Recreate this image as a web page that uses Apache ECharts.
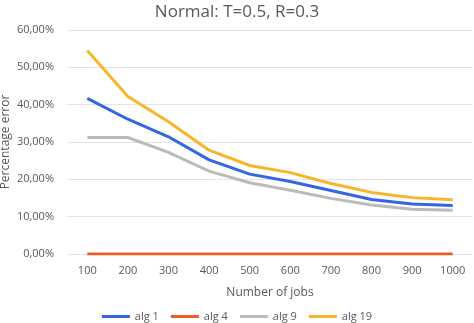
<!DOCTYPE html>
<html>
<head>
<meta charset="utf-8">
<script src="https://cdn.jsdelivr.net/npm/echarts@6/dist/echarts.min.js"></script>
<style>
  html, body { margin: 0; padding: 0; background: #fff; }
  #chart { width: 474px; height: 323px; }
</style>
</head>
<body>
<div id="chart"></div>
<script>
// Number of jobs
const jobs = ['100', '200', '300', '400', '500', '600', '700', '800', '900', '1000'];
// Percentage error per algorithm (in %)
const alg1 = [41.7, 36.1, 31.4, 25.2, 21.4, 19.4, 17.0, 14.6, 13.4, 13.0];
const alg4 = [0, 0, 0, 0, 0, 0, 0, 0, 0, 0];
const alg9 = [31.2, 31.2, 27.2, 22.2, 19.1, 17.1, 14.9, 13.1, 12.0, 11.7];
const alg19 = [54.5, 42.2, 35.4, 27.8, 23.7, 21.8, 18.9, 16.5, 15.1, 14.5];

const seriesNames = ['alg 1', 'alg 4', 'alg 9', 'alg 19'];
const seriesData = [alg1, alg4, alg9, alg19];
const colors = ['#3366E0', '#F0592A', '#B9BCB9', '#F7B52C'];

const textColor = '#595959';
const font = 'Open Sans';

const chart = echarts.init(document.getElementById('chart'));
chart.setOption({
  animation: false,
  color: colors,
  title: {
    text: 'Normal: T=0.5, R=0.3',
    left: 'center',
    top: -1,
    textStyle: { color: textColor, fontSize: 17, fontWeight: 'normal', fontFamily: font }
  },
  legend: {
    bottom: -4,
    left: 'center',
    itemWidth: 28,
    itemHeight: 3,
    itemGap: 12,
    icon: 'rect',
    textStyle: { color: textColor, fontSize: 11, fontFamily: font },
    data: seriesNames
  },
  grid: { left: 67, right: 1, top: 30, bottom: 69, containLabel: false, outerBoundsMode: 'none' },
  xAxis: {
    type: 'category',
    data: jobs,
    boundaryGap: true,
    name: 'Number of jobs',
    nameLocation: 'middle',
    nameGap: 33,
    nameMoveOverlap: false,
    nameTextStyle: { color: textColor, fontSize: 12, fontFamily: font },
    axisLine: { show: false },
    axisTick: { show: false },
    axisLabel: { color: textColor, fontSize: 11, fontFamily: font, margin: 11 }
  },
  yAxis: {
    type: 'value',
    min: 0,
    max: 60,
    interval: 10,
    name: 'Percentage error',
    nameLocation: 'middle',
    nameGap: 55,
    nameMoveOverlap: false,
    nameTextStyle: { color: textColor, fontSize: 12, fontFamily: font },
    axisLabel: {
      color: textColor, fontSize: 11, fontFamily: font, margin: 13,
      formatter: v => v.toFixed(2).replace('.', ',') + '%'
    },
    splitLine: { lineStyle: { color: '#E4E4E4', width: 1 } }
  },
  series: seriesNames.map((name, i) => ({
    name: name,
    type: 'line',
    data: seriesData[i],
    symbol: 'none',
    lineStyle: { width: 3, color: colors[i] },
    z: i === 1 ? 1 : 2
  }))
});
</script>
</body>
</html>
